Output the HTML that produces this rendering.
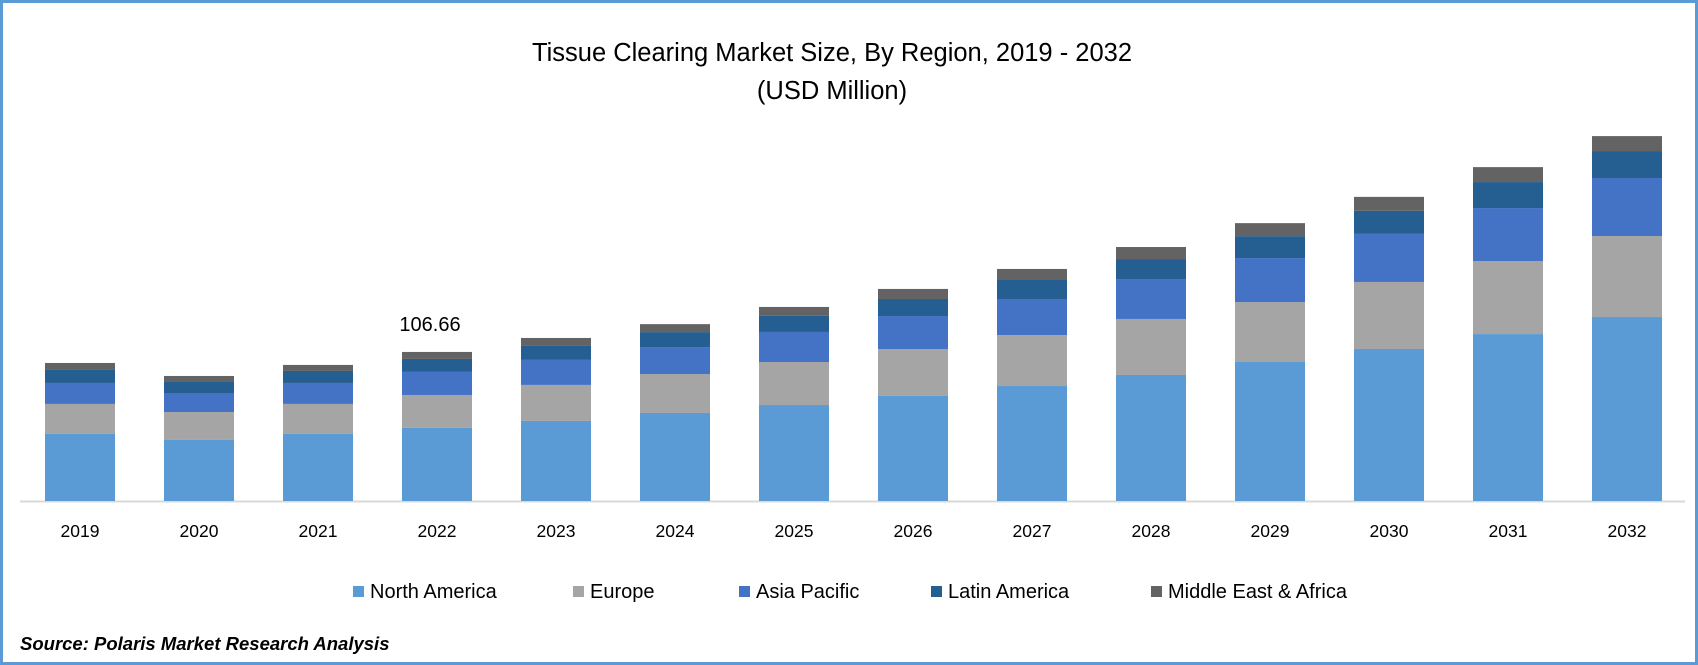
<!DOCTYPE html>
<html><head><meta charset="utf-8"><style>
html,body{margin:0;padding:0;background:#fff}
#wrap{position:relative;width:1698px;height:665px;overflow:hidden;box-sizing:border-box;border:3px solid #5b9bd5;background:#fff}
svg{position:absolute;left:0;top:0}
text{font-family:"Liberation Sans",sans-serif}
</style></head><body>
<div id="wrap">
<svg id="chart" width="1698" height="665">
  <text x="829" y="58" text-anchor="middle" font-size="25.5" fill="#000">Tissue Clearing Market Size, By Region, 2019 - 2032</text>
  <text x="829" y="96" text-anchor="middle" font-size="25.5" fill="#000">(USD Million)</text>
  <line x1="17" y1="498.5" x2="1682" y2="498.5" stroke="#d9d9d9" stroke-width="2"/>
  <g id="bars"></g>
  <g id="xlabels"></g>
  <g id="legend"></g>
  <text x="17" y="647" font-size="18.5" font-weight="bold" font-style="italic" fill="#000">Source: Polaris Market Research Analysis</text>
</svg>
</div>
<script>
const years = ["2019","2020","2021","2022","2023","2024","2025","2026","2027","2028","2029","2030","2031","2032"];
const northAmerica = [48.0,43.7,48.0,52.3,57.3,63.0,68.7,75.2,82.3,90.2,99.5,108.8,119.5,131.7];
const europe = [21.5,20.0,21.5,23.6,25.8,27.9,30.8,33.6,36.5,40.1,42.9,48.0,52.3,58.0];
const asiaPacific = [15.0,13.6,15.0,16.5,17.9,19.3,21.5,23.6,25.8,28.6,31.5,34.4,37.9,41.5];
const latinAmerica = [9.3,7.9,8.6,9.3,10.0,10.7,11.5,12.2,13.6,14.3,15.7,16.5,18.6,19.3];
const middleEastAfrica = [5.0,4.3,4.3,5.0,5.7,5.7,6.4,7.2,7.9,8.6,9.3,10.0,10.7,10.7];
const seriesNames = ["North America","Europe","Asia Pacific","Latin America","Middle East & Africa"];
const annotationIndex = 3;
const annotationText = "106.66";

const seriesData = [northAmerica, europe, asiaPacific, latinAmerica, middleEastAfrica];
const colors = ["#5b9bd5","#a5a5a5","#4472c4","#255e91","#636363"];
const NS = "http://www.w3.org/2000/svg";
const baseY = 498, pxPerUnit = 1.397, firstX = 77, step = 119, barW = 70;
function xScale(i){ return firstX + i*step; }
function yScale(v){ return baseY - v*pxPerUnit; }

const gBars = document.getElementById('bars');
const gX = document.getElementById('xlabels');
years.forEach((yr, i) => {
  let cum = 0;
  seriesData.forEach((s, k) => {
    const v = s[i];
    const y0 = yScale(cum), y1 = yScale(cum + v);
    const r = document.createElementNS(NS, 'rect');
    r.setAttribute('x', xScale(i) - barW/2);
    r.setAttribute('y', y1);
    r.setAttribute('width', barW);
    r.setAttribute('height', y0 - y1);
    r.setAttribute('fill', colors[k]);
    
    
    gBars.appendChild(r);
    cum += v;
  });
  if (i === annotationIndex) {
    const t = document.createElementNS(NS, 'text');
    t.setAttribute('x', xScale(i) - 7);
    t.setAttribute('y', yScale(cum) - 21);
    t.setAttribute('text-anchor', 'middle');
    t.setAttribute('font-size', '20');
    t.textContent = annotationText;
    
    
    gBars.appendChild(t);
  }
  const lt = document.createElementNS(NS, 'text');
  lt.setAttribute('x', xScale(i));
  lt.setAttribute('y', 534);
  lt.setAttribute('text-anchor', 'middle');
  lt.setAttribute('font-size', '17.5');
  lt.textContent = yr;
  
  
  gX.appendChild(lt);
});

const legendX = [350, 570, 736, 928, 1148];
const gL = document.getElementById('legend');
seriesNames.forEach((n, k) => {
  const g = document.createElementNS(NS, 'g');
  
  
  const sq = document.createElementNS(NS, 'rect');
  sq.setAttribute('x', legendX[k]); sq.setAttribute('y', 583);
  sq.setAttribute('width', 11); sq.setAttribute('height', 11);
  sq.setAttribute('fill', colors[k]);
  
  
  const t = document.createElementNS(NS, 'text');
  t.setAttribute('x', legendX[k] + 17); t.setAttribute('y', 595);
  t.setAttribute('font-size', '20');
  t.textContent = n;
  
  
  g.appendChild(sq); g.appendChild(t);
  gL.appendChild(g);
});
</script>
</body></html>
